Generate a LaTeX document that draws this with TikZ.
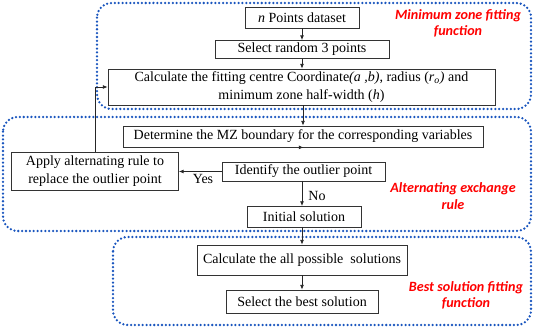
\documentclass[tikz,border=0pt]{standalone}
\usepackage{fontspec}
\setmainfont{Liberation Serif}
\newfontfamily\lblfont{Carlito}
\usetikzlibrary{arrows.meta}
\definecolor{zblue}{RGB}{25,85,190}
\tikzset{
  box/.style={draw=black!80, line width=0.6pt, inner sep=0pt, align=center, font=\fontsize{10.5}{13.5}\selectfont},
  arr/.style={-{Latex[length=3.5pt,width=3pt]}, line width=0.6pt, draw=black!85},
  zone/.style={draw=zblue, line width=1.9pt, dash pattern=on 0pt off 2.9pt, line cap=round, rounded corners=11pt},
  lbl/.style={text=red, font=\lblfont\bfseries\itshape\fontsize{10.6}{12.2}\selectfont, align=center, inner sep=0pt},
  tag/.style={font=\fontsize{10.5}{12}\selectfont, inner sep=0pt},
}
\begin{document}
\begin{tikzpicture}[x=0.75pt,y=-0.75pt]
\useasboundingbox (0,0) rectangle (533,327);
% zones
\draw[zone] (97,3) rectangle (531,109);
\draw[zone] (3,117) rectangle (531,231);
\draw[zone] (113,237) rectangle (531,325);
% zone labels
\node[lbl] (l1) at (458,23) {Minimum zone fitting\\function};
\node[lbl] (l2) at (453,196) {Alternating exchange\\rule};
\node[lbl] (l3) at (466,295) {Best solution fitting\\function};
% boxes
\node[box, minimum width=85.5pt, minimum height=15.75pt] (npts) at (302,17.5) {\textit{n} Points dataset};
\node[box, minimum width=130.5pt, minimum height=13.5pt] (sel) at (302,49.5) {Select random 3 points};
\node[box, minimum width=290.25pt, minimum height=27pt] (calc) at (301.5,87) {Calculate the fitting centre Coordinate\textit{(a ,b)}, radius (\textit{r\textsubscript{o})} and\\minimum zone half-width (\textit{h})};
\node[box, minimum width=270pt, minimum height=15.75pt] (det) at (303,136.5) {Determine the MZ boundary for the corresponding variables};
\node[box, minimum width=125.25pt, minimum height=28.5pt] (apply) at (95,171) {Apply alternating rule to\\replace the outlier point};
\node[box, minimum width=122.25pt, minimum height=14.25pt] (ident) at (303.5,171.5) {Identify the outlier point};
\node[box, minimum width=85.5pt, minimum height=15.75pt] (init) at (304,216.5) {Initial solution};
\node[box, minimum width=157.5pt, minimum height=22.5pt] (calcall) at (302,260) {Calculate the all possible\ \ solutions};
\node[box, minimum width=114pt, minimum height=17.25pt] (best) at (302,301.5) {Select the best solution};
% connectors
\draw[arr] (npts.south) -- (sel.north);
\draw[arr] (sel.south) -- (sel.south |- calc.north);
\draw[arr] (calc.south -| det.north) -- (det.north);
\draw[arr] (det.south) -- (det.south -| ident.north);
\draw[arr] (ident.west) -- (apply.east |- ident.west);
\draw[arr] (apply.north) |- (calc.west);
\draw[arr] (302,181) -- (302,206);
\draw[arr] (302,227) -- (calcall.north);
\draw[arr] (calcall.south) -- (best.north);
\node[tag] (yes) at (203,179) {Yes};
\node[tag] (no) at (317,196) {No};
\end{tikzpicture}
\end{document}
